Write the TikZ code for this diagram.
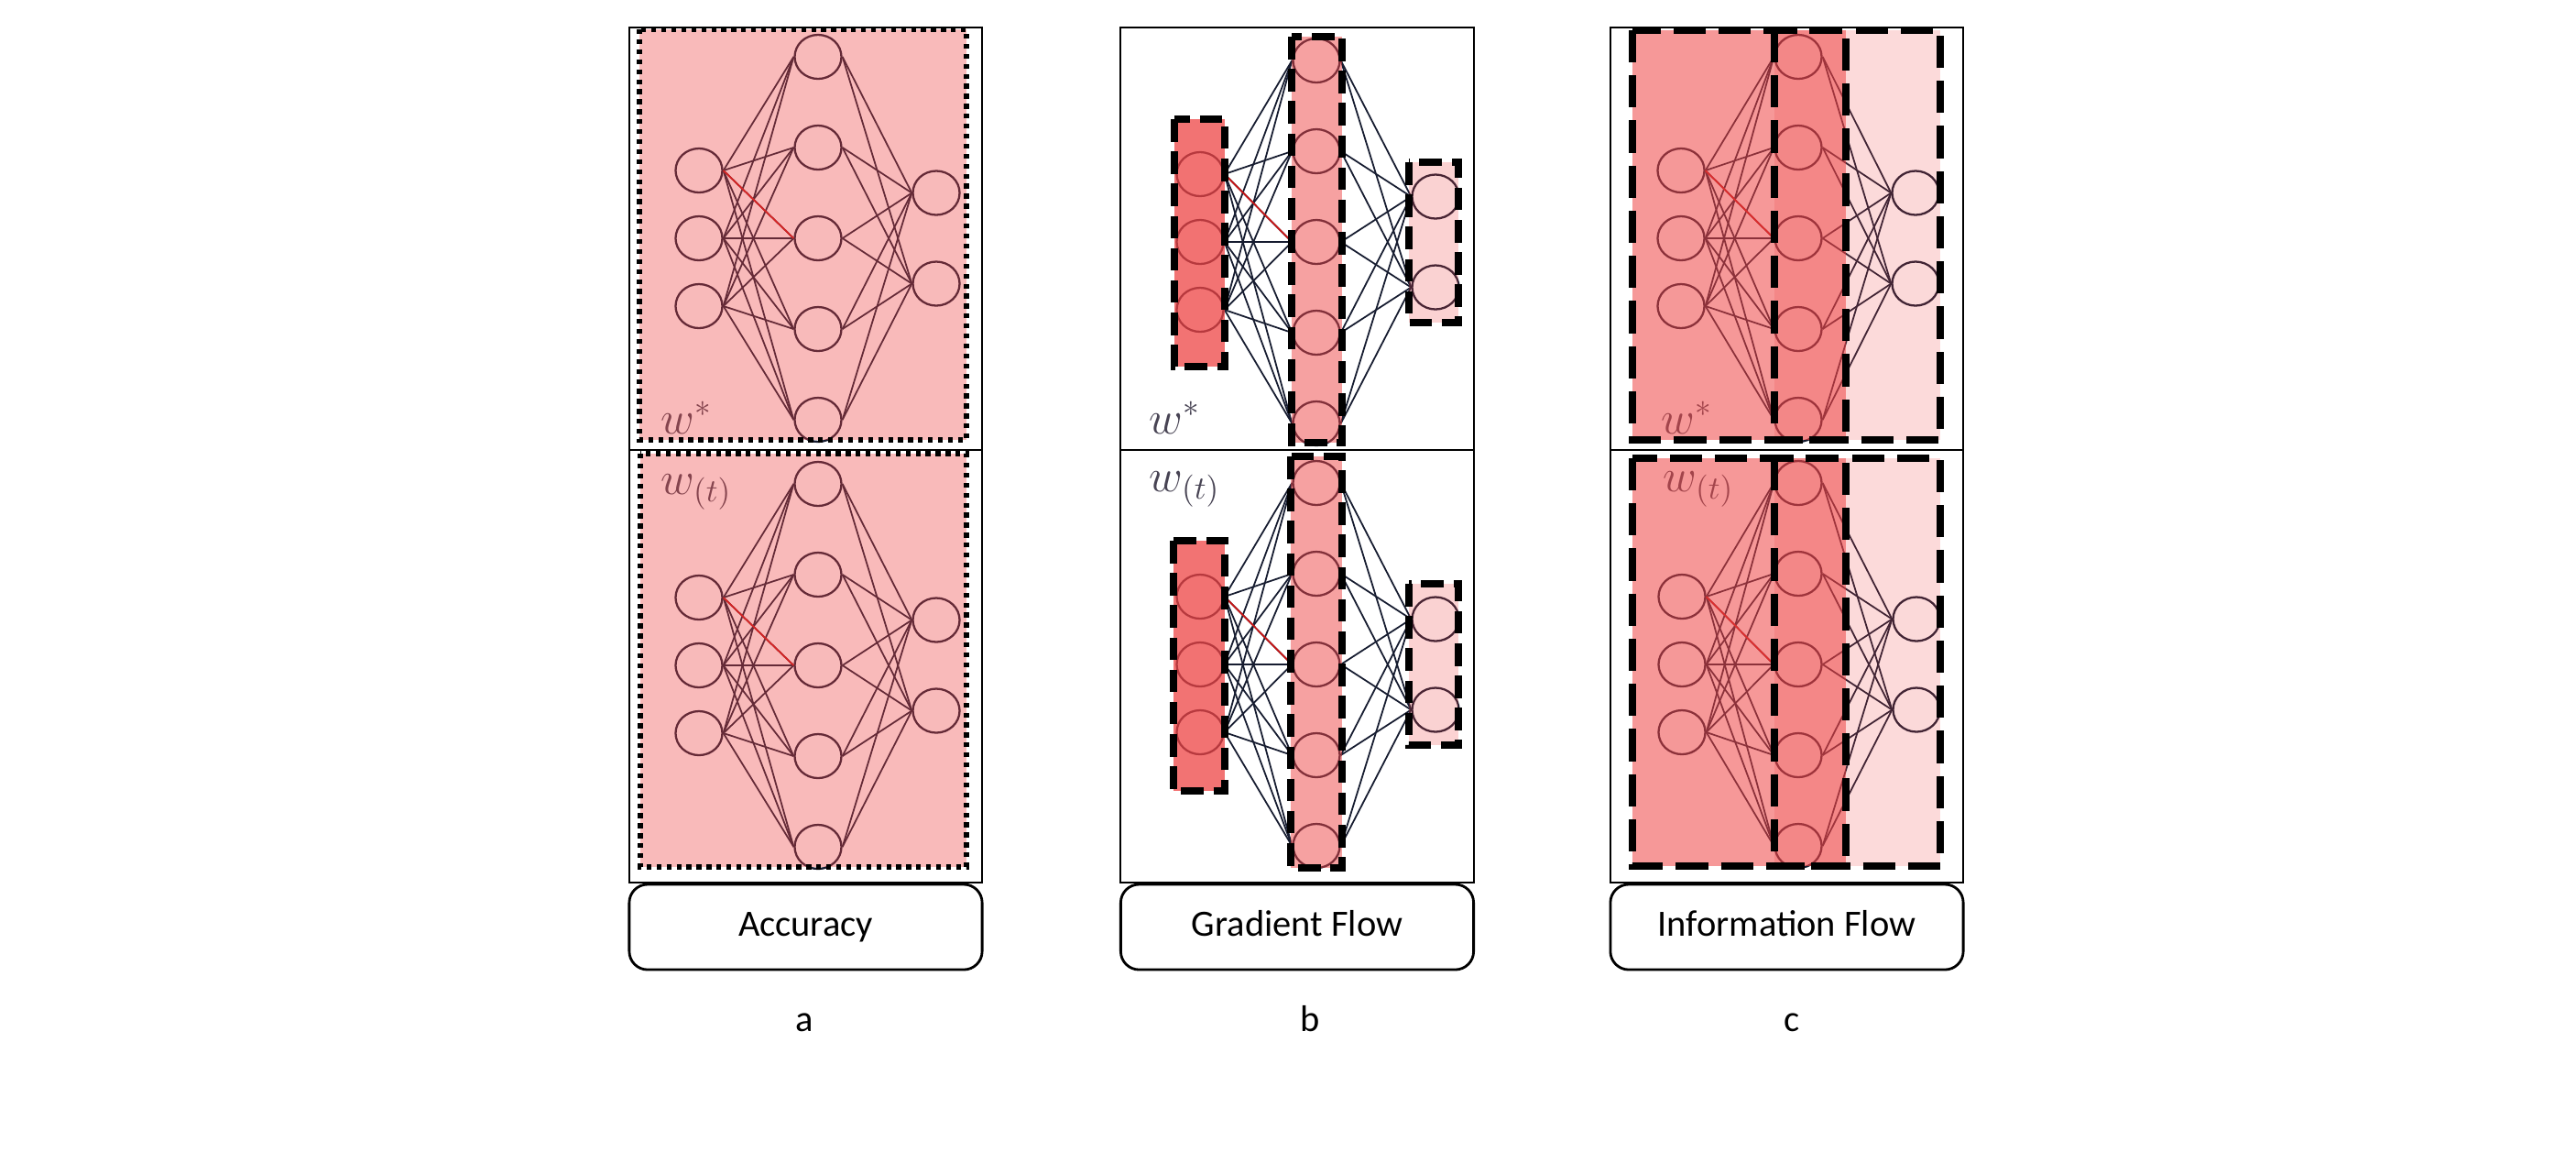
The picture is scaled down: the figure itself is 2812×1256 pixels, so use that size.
\documentclass[tikz,border=0pt]{standalone}
\usepackage{fontspec}
\setmainfont{Carlito}
\usetikzlibrary{shapes.geometric}

\definecolor{netline}{RGB}{22,28,48}
\definecolor{redov}{RGB}{238,68,68}
\definecolor{hotedge}{RGB}{200,20,20}
\definecolor{wlabel}{RGB}{72,68,84}

\tikzset{
  neuron/.style={ellipse, draw=netline, fill=white, line width=0.65pt, minimum width=0.51cm, minimum height=0.48cm, inner sep=0pt},
  wire/.style={draw=netline, line width=0.5pt},
  frame/.style={draw=black, line width=0.7pt},
  capbox/.style={draw, rounded corners=0.2cm, line width=0.8pt, minimum width=3.85cm, minimum height=0.93cm, text height=1.6ex, text depth=0.4ex, font=\fontsize{11.5}{13}\selectfont},
  dotbox/.style={draw=black, line width=1.8pt, dash pattern=on 1.5pt off 1.6pt},
  dashb/.style={draw=black, line width=2.4pt, dash pattern=on 7pt off 3pt},
  dashc/.style={draw=black, line width=2.4pt, dash pattern=on 10pt off 4pt},
  wtag/.style={text=wlabel, font=\fontsize{14}{16}\selectfont, inner sep=0pt, anchor=base west},
  sublabel/.style={font=\fontsize{11.5}{13}\selectfont, inner sep=0pt, anchor=base}
}

% small network: #1 prefix, #2/#3/#4 x of the layers, #5 y of the middle
\newcommand{\mlp}[5]{%
  \foreach \i/\dy in {1/-74,2/0,3/74}
    \node[neuron] (#1i\i) at (#2,#5+\dy) {};
  \foreach \j/\dy in {1/-198,2/-99,3/0,4/99,5/198}
    \node[neuron] (#1h\j) at (#3,#5+\dy) {};
  \foreach \k/\dy in {1/-49.5,2/49.5}
    \node[neuron] (#1o\k) at (#4,#5+\dy) {};
  \foreach \i in {1,2,3}
    \foreach \j in {1,...,5}
      \draw[wire] (#1i\i.east) -- (#1h\j.west);
  \foreach \j in {1,...,5}
    \foreach \k in {1,2}
      \draw[wire] (#1h\j.east) -- (#1o\k.west);
  \draw[wire, draw=hotedge] (#1i1.east) -- (#1h3.west);
}

\begin{document}
\begin{tikzpicture}[x=0.01cm, y=-0.01cm]
\useasboundingbox (0,0) rectangle (2812,1256);

% panel a
\draw[frame] (687,30) rectangle (1072,963);
\draw[frame] (687,491) -- (1072,491);
\mlp{at}{763}{893}{1022}{260}
\mlp{ab}{763}{893}{1022}{726}
\node[wtag] (wat) at (721,473) {$w^*$};
\node[wtag] (wab) at (721,539) {$w_{(t)}$};
\path[dotbox, fill=redov, fill opacity=0.37] (698,32) rectangle (1055,480);
\path[dotbox, fill=redov, fill opacity=0.37] (699,495) rectangle (1055,946);

% panel b
\draw[frame] (1223,30) rectangle (1609,963);
\draw[frame] (1223,491) -- (1609,491);
\mlp{bt}{1310}{1437}{1567}{264}
\mlp{bb}{1310}{1437}{1567}{725}
\node[wtag] (wbt) at (1254,473) {$w^*$};
\node[wtag] (wbb) at (1254,536) {$w_{(t)}$};
\path[dashb, fill=redov, fill opacity=0.75] (1282,130) rectangle (1337,400);
\path[dashb, fill=redov, fill opacity=0.5] (1410,40) rectangle (1465,483);
\path[dashb, fill=redov, fill opacity=0.24] (1538,177) rectangle (1592,352);
\path[dashb, fill=redov, fill opacity=0.75] (1281,590) rectangle (1337,863);
\path[dashb, fill=redov, fill opacity=0.5] (1409,498) rectangle (1465,947);
\path[dashb, fill=redov, fill opacity=0.24] (1538,637) rectangle (1592,813);

% panel c
\draw[frame] (1758,30) rectangle (2143,963);
\draw[frame] (1758,491) -- (2143,491);
\mlp{ct}{1835}{1963}{2091}{260}
\mlp{cb}{1836}{1963}{2092}{725}
\node[wtag] (wct) at (1813,473) {$w^*$};
\node[wtag] (wcb) at (1815,536) {$w_{(t)}$};
\fill[redov, opacity=0.55] (1782,33) rectangle (2015,480);
\fill[redov, opacity=0.2] (1937,33) rectangle (2118,480);
\fill[redov, opacity=0.55] (1782,500) rectangle (2015,945);
\fill[redov, opacity=0.2] (1937,500) rectangle (2118,945);
\draw[dashc] (1782,33) rectangle (2015,480);
\draw[dashc] (1937,33) rectangle (2118,480);
\draw[dashc] (1782,500) rectangle (2015,945);
\draw[dashc] (1937,500) rectangle (2118,945);

% captions
\node[capbox] (capa) at (879.5,1011.5) {Accuracy};
\node[capbox] (capb) at (1416,1011.5) {Gradient Flow};
\node[capbox] (capc) at (1950.5,1011.5) {Information Flow};
\node[sublabel] (laba) at (878,1125) {a};
\node[sublabel] (labb) at (1430,1125) {b};
\node[sublabel] (labc) at (1956,1125) {c};
\end{tikzpicture}
\end{document}
